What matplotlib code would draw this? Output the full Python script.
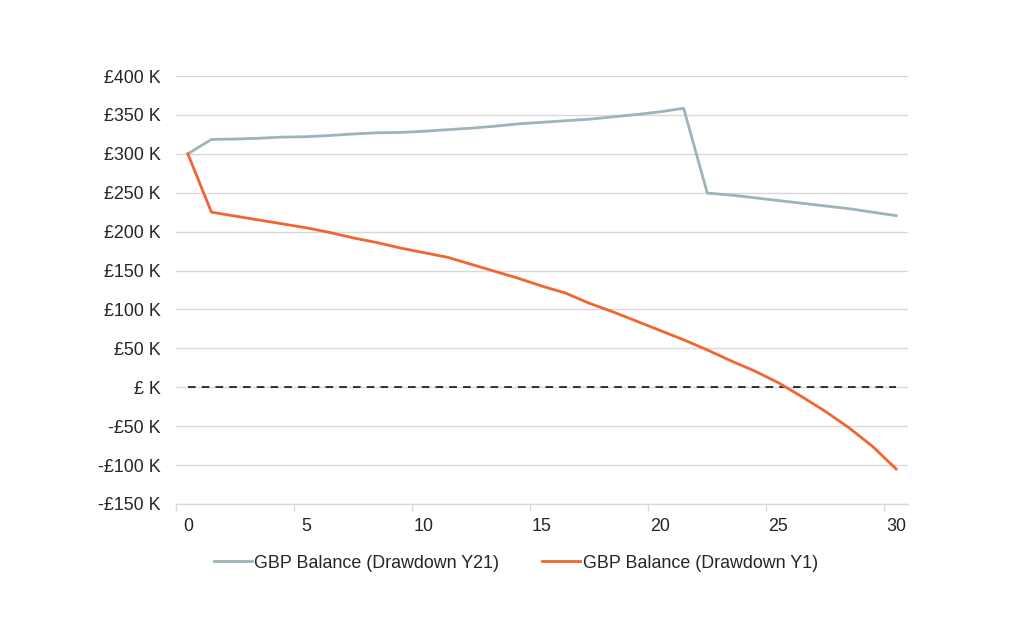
"""
GBP balance projection under two drawdown start years.
"""
import numpy as np
import matplotlib
matplotlib.use("Agg")
import matplotlib.pyplot as plt

# Years 0..30 (category axis)
years = list(range(31))

# Balance in £K, drawdown starting in year 21
balance_y21 = [300, 318.5, 319, 320, 321.5, 322, 323.5, 325.5, 327, 327.5,
               329, 331, 333, 335.5, 338.5, 340.5, 342.5, 344.5, 347.5, 350.5,
               354, 358.5, 249.5, 247, 243.5, 240, 236.5, 233, 229.5, 225, 220.5]

# Balance in £K, drawdown starting in year 1
balance_y1 = [300, 225, 220, 215, 210, 205, 199, 192, 186, 179,
              173, 167, 158, 149, 140, 130, 121, 108, 97, 85,
              73, 61, 48, 34, 21, 6, -12, -31, -52, -76, -105]

y_ticks = [400, 350, 300, 250, 200, 150, 100, 50, 0, -50, -100, -150]
y_tick_labels = ['£400 K', '£350 K', '£300 K', '£250 K', '£200 K', '£150 K',
                 '£100 K', '£50 K', '£ K', '-£50 K', '-£100 K', '-£150 K']
x_label_ticks = [0, 5, 10, 15, 20, 25, 30]

labels = ['GBP Balance (Drawdown Y21)', 'GBP Balance (Drawdown Y1)']

GREY = '#9fb3ba'
ORANGE = '#f26430'
TEXT = '#262626'
GRID = '#d9d9d9'
FS = 12.9

plt.rcParams['font.family'] = ['Liberation Sans', 'DejaVu Sans']

fig = plt.figure(figsize=(10.24, 6.18), dpi=100)
ax = fig.add_axes([0.1719, 0.1845, 0.7148, 0.6925])

x = np.array(years)
ax.plot(x, balance_y21, color=GREY, linewidth=2.0, label=labels[0], zorder=3)
ax.plot(x, balance_y1, color=ORANGE, linewidth=2.0, label=labels[1], zorder=4)
# zero reference line
ax.plot(x, np.zeros(len(x)), color='black', linewidth=1.1,
        linestyle=(0, (5, 4)), zorder=2)

ax.set_xlim(-0.5, 30.5)
ax.set_ylim(-150, 400)

ax.set_yticks(y_ticks)
ax.set_yticklabels(y_tick_labels)
ax.tick_params(axis='y', length=0, pad=11, labelsize=FS, labelcolor=TEXT)

# labels sit on category centres, tick marks on category boundaries
ax.set_xticks(x_label_ticks)
ax.set_xticklabels([str(v) for v in x_label_ticks])
ax.tick_params(axis='x', which='major', length=0, pad=10,
               labelsize=FS, labelcolor=TEXT)
ax.set_xticks([v - 0.5 for v in x_label_ticks], minor=True)
ax.tick_params(axis='x', which='minor', length=5, width=1, color=GRID,
               direction='out')

ax.grid(axis='y', color=GRID, linewidth=1)
ax.set_axisbelow(True)
for side in ['top', 'right', 'left']:
    ax.spines[side].set_visible(False)
ax.spines['bottom'].set_color(GRID)
ax.spines['bottom'].set_linewidth(1)

handles, lbls = ax.get_legend_handles_labels()
fig.legend(handles[:2], lbls[:2], loc='center', ncol=2,
           bbox_to_anchor=(516 / 1024, 1 - 563 / 618), frameon=False,
           fontsize=FS, labelcolor=TEXT, handlelength=2.1,
           handletextpad=0.15, columnspacing=2.4)

plt.savefig('out.png', dpi=100)
plt.close()
